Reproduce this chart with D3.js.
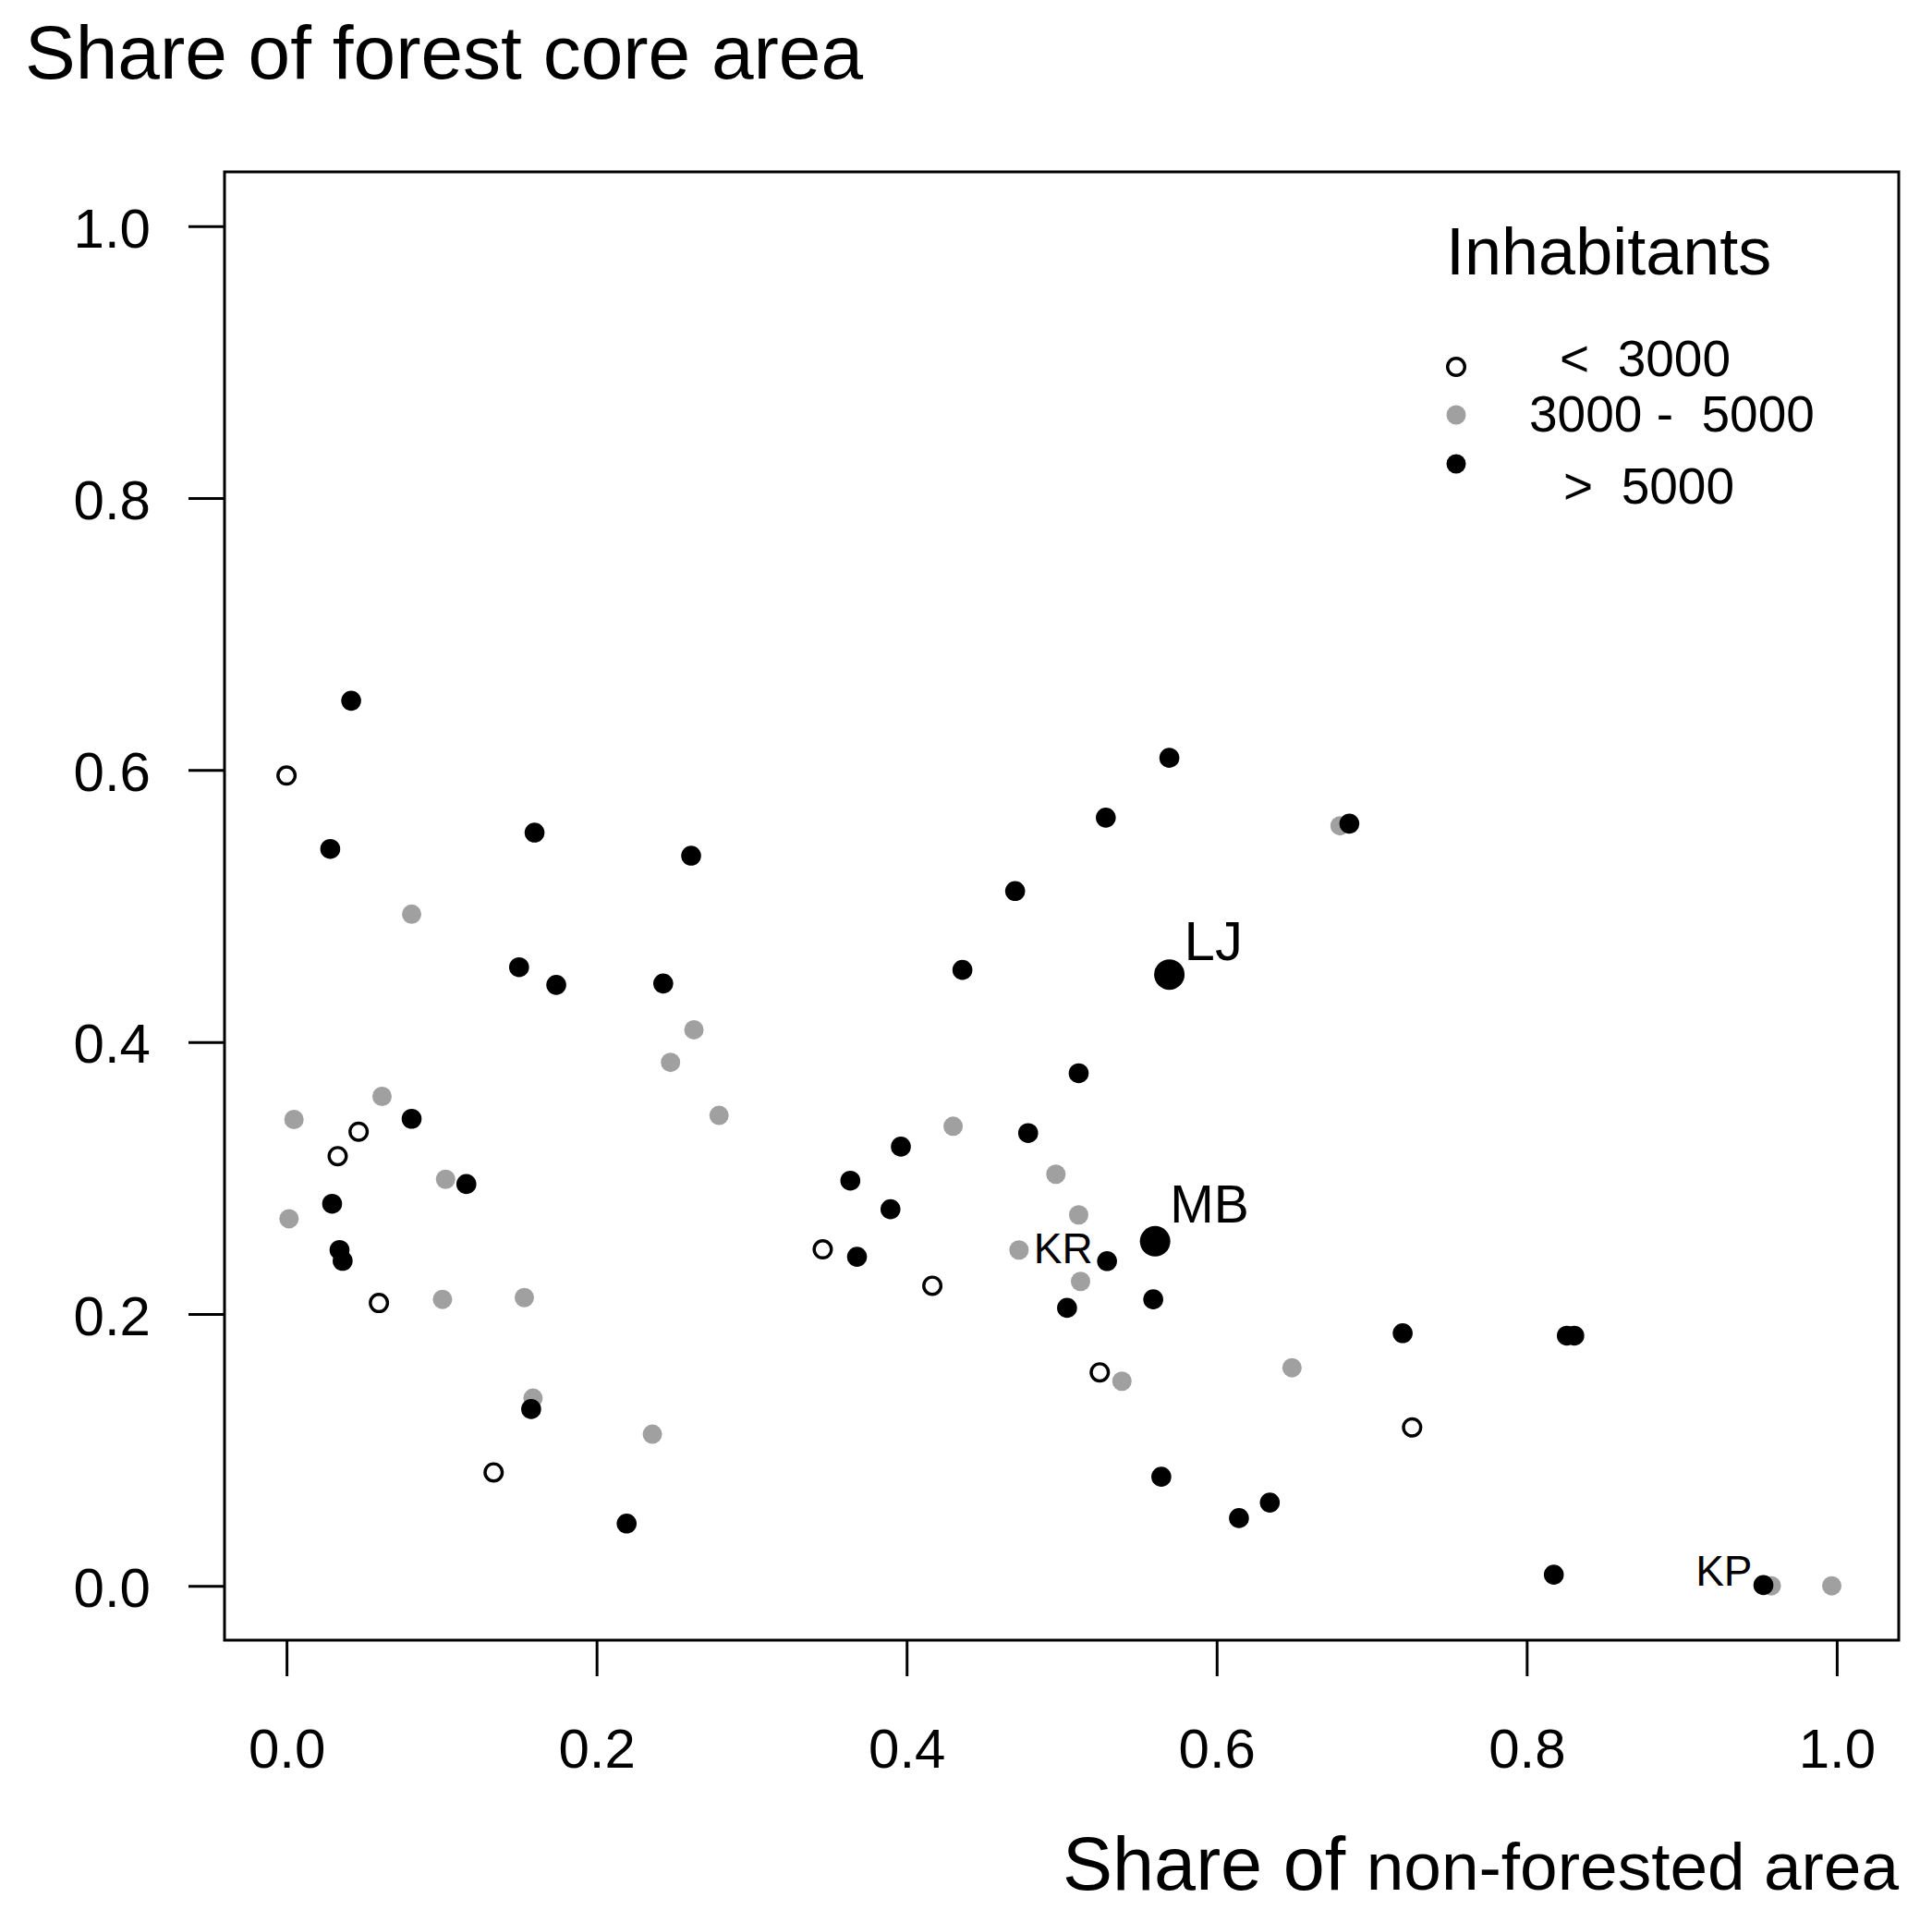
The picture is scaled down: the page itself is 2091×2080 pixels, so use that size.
<!DOCTYPE html>
<html>
<head>
<meta charset="utf-8">
<script src="https://cdn.jsdelivr.net/npm/d3@7/dist/d3.min.js"></script>
<style>
	body { margin: 0; background: #fff; }
	text { font-family: 'Liberation Sans', Arial, sans-serif; fill: #000; white-space: pre; }
</style>
</head>
<body>
<svg id="chart" width="2091" height="2080"></svg>
<script>
// inhabitants < 3000 (open circles)
const smallX = [0.000, 0.0465, 0.033, 0.0596, 0.1336, 0.3459, 0.4166, 0.5246, 0.7261];
const smallY = [0.596, 0.334, 0.316, 0.208, 0.0834, 0.2475, 0.2207, 0.157, 0.1165];

// 3000 - 5000 (grey)
const midX = [0.0807, 0.2628, 0.2477, 0.279, 0.0616, 0.0048, 0.1026, 0.0016, 0.1006, 0.1534, 0.159,
	0.236, 0.430, 0.4963, 0.511, 0.4725, 0.5122, 0.5389, 0.6486, 0.6796, 0.9578, 0.9968];
const midY = [0.494, 0.409, 0.385, 0.346, 0.360, 0.343, 0.299, 0.270, 0.2107, 0.212, 0.138,
	0.1115, 0.338, 0.3027, 0.2728, 0.247, 0.2239, 0.1505, 0.1604, 0.559, 0.0, 0.0];

// > 5000 (black)
const largeX = [0.0417, 0.0282, 0.160, 0.261, 0.150, 0.174, 0.243, 0.0807, 0.116, 0.0294, 0.0342, 0.0362,
	0.1578, 0.2194, 0.3963, 0.3637, 0.3896, 0.368, 0.436, 0.5695, 0.5285, 0.6856, 0.470, 0.511, 0.4784,
	0.5293, 0.5591, 0.5035, 0.720, 0.8259, 0.8307, 0.5643, 0.6343, 0.6144, 0.8175, 0.9527];
const largeY = [0.651, 0.542, 0.554, 0.537, 0.455, 0.442, 0.443, 0.3435, 0.2955, 0.281, 0.247, 0.239,
	0.130, 0.0458, 0.323, 0.298, 0.277, 0.242, 0.453, 0.609, 0.565, 0.5606, 0.511, 0.377, 0.333,
	0.2388, 0.2107, 0.2044, 0.1858, 0.184, 0.184, 0.0802, 0.0612, 0.0498, 0.0082, 0.0005];

// big cities, drawn larger
const cityNames = ['LJ', 'MB'];
const cityX = [0.5695, 0.5603];
const cityY = [0.4496, 0.2534];

// smaller labelled towns
const townNames = ['KR', 'KP'];
const townX = [0.4725, 0.9527];
const townY = [0.247, 0.0005];

const tickValues = [0, 0.2, 0.4, 0.6, 0.8, 1.0];
const legendLabels = ['<  3000', '3000 -  5000', '>  5000'];
const legendTitle = 'Inhabitants';

const zip = (xs, ys) => xs.map((x, i) => ({ x, y: ys[i] }));

const svg = d3.select('#chart');
const box = { left: 243, right: 2055, top: 186, bottom: 1775 };

// R style: 4% padding each side of the data range
const x = d3.scaleLinear().domain([-0.04, 1.04]).range([box.left, box.right]);
const y = d3.scaleLinear().domain([-0.04, 1.04]).range([box.bottom, box.top]);

svg.append('rect')
	.attr('width', 2091).attr('height', 2080).attr('fill', '#fff');

// axes, ticks only (the box is drawn on its own)
const xAxis = svg.append('g')
	.attr('transform', `translate(0,${box.bottom})`)
	.call(d3.axisBottom(x).tickValues(tickValues).tickFormat(d3.format('.1f')).tickSize(39).tickPadding(56));
const yAxis = svg.append('g')
	.attr('transform', `translate(${box.left},0)`)
	.call(d3.axisLeft(y).tickValues(tickValues).tickFormat(d3.format('.1f')).tickSize(39).tickPadding(41));

[xAxis, yAxis].forEach((g) => {
	g.select('.domain').remove();
	g.selectAll('.tick line').attr('stroke', '#000').attr('stroke-width', 3);
	g.selectAll('.tick text')
		.style('font-family', "'Liberation Sans', Arial, sans-serif")
		.style('font-size', '60px')
		.attr('fill', '#000');
});
yAxis.selectAll('.tick text').attr('dy', '0.37em');

svg.append('rect')
	.attr('x', box.left).attr('y', box.top)
	.attr('width', box.right - box.left).attr('height', box.bottom - box.top)
	.attr('fill', 'none').attr('stroke', '#000').attr('stroke-width', 3);

// points
const grey = '#a0a0a0';
const pts = svg.append('g');

pts.selectAll('.mid')
	.data(zip(midX, midY))
	.join('circle')
	.attr('class', 'mid')
	.attr('cx', (d) => x(d.x)).attr('cy', (d) => y(d.y))
	.attr('r', 10.5).attr('fill', grey);

pts.selectAll('.small')
	.data(zip(smallX, smallY))
	.join('circle')
	.attr('class', 'small')
	.attr('cx', (d) => x(d.x)).attr('cy', (d) => y(d.y))
	.attr('r', 9.3).attr('fill', 'none').attr('stroke', '#000').attr('stroke-width', 3.4);

pts.selectAll('.large')
	.data(zip(largeX, largeY))
	.join('circle')
	.attr('class', 'large')
	.attr('cx', (d) => x(d.x)).attr('cy', (d) => y(d.y))
	.attr('r', 10.8).attr('fill', '#000');

const cities = cityNames.map((name, i) => ({ name, x: cityX[i], y: cityY[i] }));
pts.selectAll('.city')
	.data(cities)
	.join('circle')
	.attr('class', 'city')
	.attr('cx', (d) => x(d.x)).attr('cy', (d) => y(d.y))
	.attr('r', 16.5).attr('fill', '#000');

// labels next to the cities
const cityLabelSize = { LJ: 60, MB: 57 };
svg.selectAll('.city-label')
	.data(cities)
	.join('text')
	.attr('class', 'city-label')
	.attr('x', (d) => x(d.x) + 16)
	.attr('y', (d) => y(d.y) - (d.name === 'LJ' ? 16 : 20))
	.style('font-size', (d) => cityLabelSize[d.name] + 'px')
	.text((d) => d.name);

const towns = townNames.map((name, i) => ({ name, x: townX[i], y: townY[i] }));
svg.selectAll('.town-label')
	.data(towns)
	.join('text')
	.attr('class', 'town-label')
	.attr('x', (d) => (d.name === 'KR' ? x(d.x) + 16 : x(d.x) - 12))
	.attr('y', (d) => (d.name === 'KR' ? y(d.y) + 14 : y(d.y) + 1))
	.attr('text-anchor', (d) => (d.name === 'KR' ? 'start' : 'end'))
	.style('font-size', '46px')
	.text((d) => d.name);

// legend
const legend = svg.append('g');
legend.append('text')
	.attr('x', 1565).attr('y', 297)
	.style('font-size', '72px')
	.text(legendTitle);

const legendSymbolY = [397, 449, 502];
const legendTextX = [1688, 1655, 1692];
const legendTextY = [407, 467, 545];

legend.selectAll('circle')
	.data(legendLabels)
	.join('circle')
	.attr('cx', 1576)
	.attr('cy', (d, i) => legendSymbolY[i])
	.attr('r', (d, i) => (i === 0 ? 9.3 : 10.5))
	.attr('fill', (d, i) => (i === 0 ? 'none' : i === 1 ? grey : '#000'))
	.attr('stroke', (d, i) => (i === 0 ? '#000' : 'none'))
	.attr('stroke-width', 3.4);

legend.selectAll('.legend-label')
	.data(legendLabels)
	.join('text')
	.attr('class', 'legend-label')
	.attr('x', (d, i) => legendTextX[i])
	.attr('y', (d, i) => legendTextY[i])
	.style('font-size', '55px')
	.text((d) => d);

// axis titles
svg.append('text')
	.attr('x', 27).attr('y', 85)
	.style('font-size', '82px')
	.text('Share of forest core area');

const xTitle = svg.append('text')
	.attr('x', 2055).attr('y', 2045)
	.attr('text-anchor', 'end');
xTitle.append('tspan').style('font-size', '81px').text('Share of ');
xTitle.append('tspan').style('font-size', '73px').text('non-forested area');
</script>
</body>
</html>
